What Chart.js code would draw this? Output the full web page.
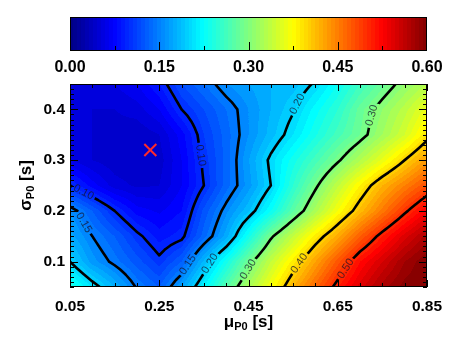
<!DOCTYPE html>
<html>
<head>
<meta charset="utf-8">
<script src="https://cdn.jsdelivr.net/npm/chart.js@4.4.1/dist/chart.umd.min.js"></script>
<style>
  html, body { margin: 0; padding: 0; background: #fff; }
  canvas { display: block; }
</style>
</head>
<body>
<canvas id="chart" width="474" height="338"></canvas>
<script>
// Grid axes (mu_P0 along x, sigma_P0 along y)
const muGrid = [0.05, 0.10, 0.15, 0.20, 0.25, 0.30, 0.35, 0.40, 0.45, 0.50, 0.55, 0.60, 0.65, 0.70, 0.75, 0.80, 0.85];
const sigmaGrid = [0.05, 0.10, 0.15, 0.20, 0.25, 0.30, 0.35, 0.40, 0.45];

// Cost values, one row per sigma_P0
const rowSigma05 = [0.240, 0.210, 0.180, 0.148, 0.130, 0.170, 0.220, 0.275, 0.325, 0.370, 0.420, 0.465, 0.510, 0.545, 0.575, 0.595, 0.600];
const rowSigma10 = [0.200, 0.165, 0.145, 0.125, 0.105, 0.130, 0.183, 0.235, 0.290, 0.340, 0.385, 0.430, 0.475, 0.520, 0.550, 0.580, 0.600];
const rowSigma15 = [0.175, 0.150, 0.130, 0.105, 0.085, 0.095, 0.135, 0.175, 0.235, 0.295, 0.340, 0.385, 0.425, 0.470, 0.510, 0.545, 0.575];
const rowSigma20 = [0.160, 0.130, 0.100, 0.075, 0.068, 0.080, 0.123, 0.157, 0.188, 0.229, 0.278, 0.325, 0.371, 0.414, 0.454, 0.495, 0.530];
const rowSigma25 = [0.100, 0.075, 0.055, 0.048, 0.050, 0.070, 0.100, 0.135, 0.165, 0.200, 0.250, 0.295, 0.338, 0.381, 0.420, 0.450, 0.480];
const rowSigma30 = [0.060, 0.050, 0.043, 0.040, 0.045, 0.070, 0.104, 0.134, 0.169, 0.205, 0.235, 0.265, 0.296, 0.329, 0.363, 0.400, 0.435];
const rowSigma35 = [0.055, 0.050, 0.045, 0.042, 0.050, 0.075, 0.110, 0.135, 0.160, 0.185, 0.210, 0.238, 0.265, 0.290, 0.320, 0.350, 0.390];
const rowSigma40 = [0.050, 0.050, 0.050, 0.055, 0.070, 0.100, 0.120, 0.140, 0.160, 0.180, 0.198, 0.225, 0.250, 0.285, 0.310, 0.335, 0.365];
const rowSigma45 = [0.055, 0.055, 0.060, 0.070, 0.090, 0.120, 0.140, 0.160, 0.170, 0.180, 0.185, 0.203, 0.230, 0.260, 0.285, 0.310, 0.330];
const costRows = [rowSigma05, rowSigma10, rowSigma15, rowSigma20, rowSigma25, rowSigma30, rowSigma35, rowSigma40, rowSigma45];

const contourLevels = [0.10, 0.15, 0.20, 0.30, 0.40, 0.50];
const muTicks = [0.05, 0.25, 0.45, 0.65, 0.85];
const sigmaTicks = [0.1, 0.2, 0.3, 0.4];
const colorTicks = [0.00, 0.15, 0.30, 0.45, 0.60];
const bestFit = [{ x: 0.23, y: 0.32 }];

const cMax = 0.6;
const fillStep = 0.01;
const FONT = "'Liberation Sans', Arial, sans-serif";

// where the contour labels sit (data coords, snapped onto their line)
const contourLabels = [
    { level: 0.20, mu: 0.563, sigma: 0.409 },
    { level: 0.30, mu: 0.722, sigma: 0.389 },
    { level: 0.10, mu: 0.348, sigma: 0.310 },
    { level: 0.10, mu: 0.075, sigma: 0.228 },
    { level: 0.15, mu: 0.088, sigma: 0.180 },
    { level: 0.15, mu: 0.308, sigma: 0.097 },
    { level: 0.20, mu: 0.373, sigma: 0.091 },
    { level: 0.30, mu: 0.449, sigma: 0.085 },
    { level: 0.40, mu: 0.563, sigma: 0.097 },
    { level: 0.50, mu: 0.666, sigma: 0.087 }
];

function lookup(grid, v) {
    let i = 0;
    while (i < grid.length - 2 && v > grid[i + 1]) i++;
    const t = (v - grid[i]) / (grid[i + 1] - grid[i]);
    return [i, Math.min(1, Math.max(0, t))];
}

function costAt(mu, sigma) {
    const [i, tx] = lookup(muGrid, mu);
    const [j, ty] = lookup(sigmaGrid, sigma);
    const a = costRows[j][i], b = costRows[j][i + 1];
    const c = costRows[j + 1][i], d = costRows[j + 1][i + 1];
    return (a * (1 - tx) + b * tx) * (1 - ty) + (c * (1 - tx) + d * tx) * ty;
}

function jet(t) {
    const c = v => Math.round(255 * Math.max(0, Math.min(1, v)));
    return [c(Math.min(4 * t - 1.5, -4 * t + 4.5)), c(Math.min(4 * t - 0.5, -4 * t + 3.5)), c(Math.min(4 * t + 0.5, -4 * t + 2.5))];
}

// marching squares on a finer copy of the grid
function contourSegments(level, sub) {
    const segs = [];
    for (let j = 0; j < sigmaGrid.length - 1; j++) {
        for (let i = 0; i < muGrid.length - 1; i++) {
            for (let sj = 0; sj < sub; sj++) {
                for (let si = 0; si < sub; si++) {
                    const x0 = muGrid[i] + (muGrid[i + 1] - muGrid[i]) * si / sub;
                    const x1 = muGrid[i] + (muGrid[i + 1] - muGrid[i]) * (si + 1) / sub;
                    const y0 = sigmaGrid[j] + (sigmaGrid[j + 1] - sigmaGrid[j]) * sj / sub;
                    const y1 = sigmaGrid[j] + (sigmaGrid[j + 1] - sigmaGrid[j]) * (sj + 1) / sub;
                    const v00 = costAt(x0, y0), v10 = costAt(x1, y0), v11 = costAt(x1, y1), v01 = costAt(x0, y1);
                    const pts = [];
                    const edge = (xa, ya, va, xb, yb, vb) => {
                        if ((va < level) !== (vb < level)) {
                            const t = (level - va) / (vb - va);
                            pts.push([xa + (xb - xa) * t, ya + (yb - ya) * t]);
                        } else {
                            pts.push(null);
                        }
                    };
                    edge(x0, y0, v00, x1, y0, v10);
                    edge(x1, y0, v10, x1, y1, v11);
                    edge(x1, y1, v11, x0, y1, v01);
                    edge(x0, y1, v01, x0, y0, v00);
                    const hit = pts.filter(p => p);
                    if (hit.length === 2) {
                        segs.push(hit);
                    } else if (hit.length === 4) {
                        const center = (v00 + v10 + v11 + v01) / 4;
                        if ((center < level) === (v00 < level)) {
                            segs.push([pts[0], pts[1]], [pts[2], pts[3]]);
                        } else {
                            segs.push([pts[0], pts[3]], [pts[1], pts[2]]);
                        }
                    }
                }
            }
        }
    }
    return segs;
}

const costMapPlugin = {
    id: 'costMap',
    beforeDatasetsDraw(chart) {
        const { ctx, chartArea: a, scales: { x, y } } = chart;
        const w = Math.round(a.right - a.left), h = Math.round(a.bottom - a.top);

        // filled map
        const off = document.createElement('canvas');
        off.width = w;
        off.height = h;
        const octx = off.getContext('2d');
        const img = octx.createImageData(w, h);
        for (let j = 0; j < h; j++) {
            const sigma = y.getValueForPixel(a.top + j + 0.5);
            for (let i = 0; i < w; i++) {
                const mu = x.getValueForPixel(a.left + i + 0.5);
                const v = costAt(mu, sigma);
                const q = (Math.floor(v / fillStep) + 0.5) * fillStep;
                const [r, g, b] = jet(q / cMax);
                const k = 4 * (j * w + i);
                img.data[k] = r;
                img.data[k + 1] = g;
                img.data[k + 2] = b;
                img.data[k + 3] = 255;
            }
        }
        octx.putImageData(img, 0, 0);
        ctx.drawImage(off, a.left, a.top);

        // label boxes, snapped to their contour
        const pixVal = (px, py) => costAt(x.getValueForPixel(px), y.getValueForPixel(py));
        ctx.font = '11px ' + FONT;
        const boxes = contourLabels.map(lab => {
            let px = x.getPixelForValue(lab.mu), py = y.getPixelForValue(lab.sigma);
            let gx = 0, gy = 0;
            for (let k = 0; k < 12; k++) {
                gx = (pixVal(px + 1, py) - pixVal(px - 1, py)) / 2;
                gy = (pixVal(px, py + 1) - pixVal(px, py - 1)) / 2;
                const g2 = gx * gx + gy * gy;
                if (g2 < 1e-12) break;
                const f = pixVal(px, py) - lab.level;
                px -= f * gx / g2;
                py -= f * gy / g2;
            }
            let tx = -gy, ty = gx;
            if (tx < 0) { tx = -tx; ty = -ty; }
            const angle = Math.atan2(ty, tx);
            const text = lab.level.toFixed(2);
            const tw = ctx.measureText(text).width;
            return { px, py, angle, text, hw: tw / 2 + 2, hh: 5 };
        });

        // contour lines with gaps at labels
        ctx.save();
        ctx.beginPath();
        ctx.rect(a.left, a.top, w, h);
        boxes.forEach(b => {
            const c = Math.cos(b.angle), s = Math.sin(b.angle);
            const corners = [[-b.hw, -b.hh], [b.hw, -b.hh], [b.hw, b.hh], [-b.hw, b.hh]];
            corners.forEach(([u, v], k) => {
                const X = b.px + u * c - v * s, Y = b.py + u * s + v * c;
                if (k === 0) ctx.moveTo(X, Y); else ctx.lineTo(X, Y);
            });
            ctx.closePath();
        });
        ctx.clip('evenodd');
        ctx.strokeStyle = '#000';
        ctx.lineWidth = 2.6;
        ctx.lineCap = 'round';
        ctx.lineJoin = 'round';
        contourLevels.forEach(level => {
            const segs = contourSegments(level, 4);
            ctx.beginPath();
            segs.forEach(([p, q]) => {
                ctx.moveTo(x.getPixelForValue(p[0]), y.getPixelForValue(p[1]));
                ctx.lineTo(x.getPixelForValue(q[0]), y.getPixelForValue(q[1]));
            });
            ctx.stroke();
        });
        ctx.restore();

        // contour labels
        ctx.save();
        ctx.fillStyle = 'rgba(20, 20, 40, 0.75)';
        ctx.textAlign = 'center';
        ctx.textBaseline = 'middle';
        boxes.forEach(b => {
            ctx.save();
            ctx.translate(b.px, b.py);
            ctx.rotate(b.angle);
            ctx.fillText(b.text, 0, 0);
            ctx.restore();
        });
        ctx.restore();

        // frame and inward ticks
        ctx.save();
        ctx.strokeStyle = '#000';
        ctx.lineWidth = 1;
        ctx.strokeRect(a.left + 0.5, a.top + 0.5, w - 1, h - 1);
        ctx.beginPath();
        for (let k = 0; k <= 16; k++) {
            const v = 0.05 + k * 0.05;
            const px = Math.round(x.getPixelForValue(v)) + 0.5;
            const len = muTicks.some(t => Math.abs(t - v) < 1e-6) ? 7 : 4;
            ctx.moveTo(px, a.bottom); ctx.lineTo(px, a.bottom - len);
            ctx.moveTo(px, a.top); ctx.lineTo(px, a.top + len);
        }
        for (let k = 5; k <= 45; k++) {
            const v = k / 100;
            const py = Math.round(y.getPixelForValue(v)) + 0.5;
            const len = sigmaTicks.some(t => Math.abs(t - v) < 1e-6) ? 8 : 4;
            ctx.moveTo(a.left, py); ctx.lineTo(a.left + len, py);
            ctx.moveTo(a.right, py); ctx.lineTo(a.right - len, py);
        }
        ctx.stroke();
        ctx.restore();
    },
    afterDraw(chart) {
        const { ctx, chartArea: a } = chart;
        const W = a.right - a.left;
        const barTop = 17, barBottom = 51;

        // colour bar
        const nb = 90;
        for (let k = 0; k < nb; k++) {
            const [r, g, b] = jet((k + 0.5) / nb);
            ctx.fillStyle = `rgb(${r},${g},${b})`;
            const x0 = Math.floor(a.left + W * k / nb);
            const x1 = Math.ceil(a.left + W * (k + 1) / nb);
            ctx.fillRect(x0, barTop, x1 - x0, barBottom - barTop);
        }
        ctx.save();
        ctx.strokeStyle = '#000';
        ctx.lineWidth = 1;
        ctx.strokeRect(Math.round(a.left) + 0.5, barTop + 0.5, Math.round(W) - 1, barBottom - barTop - 1);
        ctx.beginPath();
        for (let k = 1; k < 8; k++) {
            const px = Math.round(a.left + W * k / 8) + 0.5;
            const len = k % 2 === 0 ? 9 : 5;
            ctx.moveTo(px, barBottom); ctx.lineTo(px, barBottom - len);
        }
        ctx.stroke();
        ctx.fillStyle = '#000';
        ctx.font = 'bold 16px ' + FONT;
        ctx.textAlign = 'center';
        ctx.textBaseline = 'middle';
        colorTicks.forEach(v => {
            ctx.fillText(v.toFixed(2), a.left + W * v / cMax, 68);
        });

        // axis titles with subscripts
        const drawTitle = (sym, cx, cy, rot) => {
            ctx.save();
            ctx.translate(cx, cy);
            ctx.rotate(rot);
            ctx.textAlign = 'left';
            ctx.textBaseline = 'alphabetic';
            const big = 'bold 17px ' + FONT, small = 'bold 11px ' + FONT;
            ctx.font = big;
            const w1 = ctx.measureText(sym).width;
            const w3 = ctx.measureText(' [s]').width;
            ctx.font = small;
            const w2 = ctx.measureText('P0').width;
            let xs = -(w1 + w2 + w3) / 2;
            ctx.font = big;
            ctx.fillText(sym, xs, 0);
            xs += w1;
            ctx.font = small;
            ctx.fillText('P0', xs, 3);
            xs += w2;
            ctx.font = big;
            ctx.fillText(' [s]', xs, 0);
            ctx.restore();
        };
        drawTitle('\u03bc', (a.left + a.right) / 2, 327, 0);
        drawTitle('\u03c3', 31, (a.top + a.bottom) / 2, -Math.PI / 2);
        ctx.restore();
    }
};

const ctx = document.getElementById('chart').getContext('2d');
const chart = new Chart(ctx, {
    type: 'scatter',
    data: {
        datasets: [{
            data: bestFit,
            pointStyle: 'crossRot',
            radius: 8.5,
            borderWidth: 2,
            borderColor: '#ff2a2a',
            backgroundColor: '#ff2a2a'
        }]
    },
    options: {
        responsive: false,
        animation: false,
        layout: { padding: { top: 84, right: 47, left: 0, bottom: 0 } },
        plugins: { legend: { display: false }, tooltip: { enabled: false } },
        scales: {
            x: {
                type: 'linear',
                min: 0.05,
                max: 0.85,
                afterBuildTicks: s => { s.ticks = muTicks.map(v => ({ value: v })); },
                afterFit: s => { s.height = 51; },
                grid: { display: false, drawTicks: false },
                border: { display: false },
                ticks: {
                    color: '#000',
                    font: { size: 15.5, family: FONT, weight: 'bold' },
                    padding: 10,
                    maxRotation: 0,
                    autoSkip: false,
                    callback: v => v.toFixed(2)
                }
            },
            y: {
                type: 'linear',
                min: 0.05,
                max: 0.45,
                afterBuildTicks: s => { s.ticks = sigmaTicks.map(v => ({ value: v })); },
                afterFit: s => { s.width = 70; },
                grid: { display: false, drawTicks: false },
                border: { display: false },
                ticks: {
                    color: '#000',
                    font: { size: 15.5, family: FONT, weight: 'bold' },
                    padding: 5,
                    autoSkip: false,
                    callback: v => v.toFixed(1)
                }
            }
        }
    },
    plugins: [costMapPlugin]
});
</script>
</body>
</html>
